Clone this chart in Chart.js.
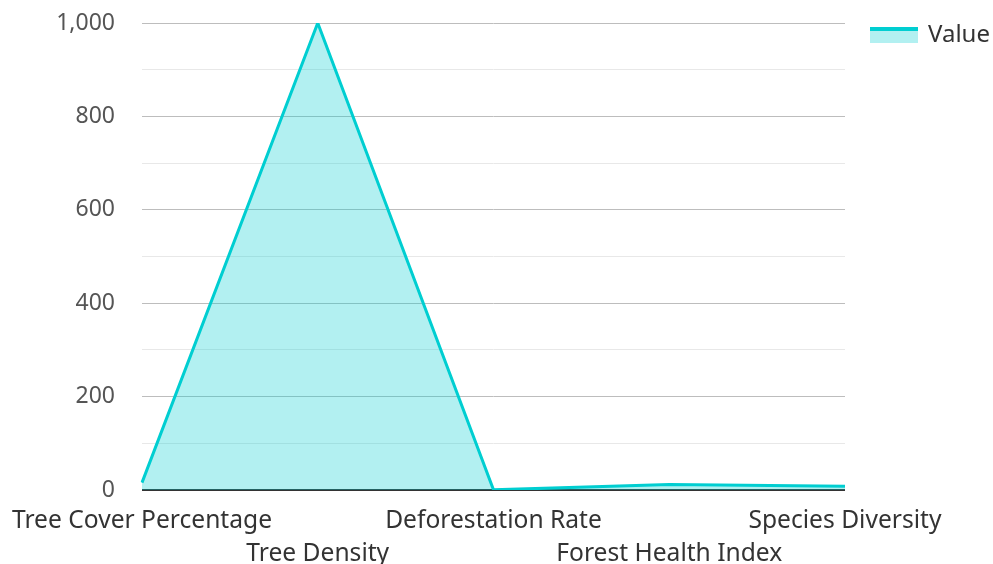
<!DOCTYPE html>
<html>
<head>
<meta charset="utf-8">
<script src="https://cdn.jsdelivr.net/npm/chart.js@4/dist/chart.umd.min.js"></script>
<style>
  html, body { margin: 0; padding: 0; background: #fff; }
  #wrap { width: 993px; height: 564px; }
</style>
</head>
<body>
<div id="wrap"><canvas id="chart" width="993" height="564"></canvas></div>
<script>
var categories = ['Tree Cover Percentage', 'Tree Density', 'Deforestation Rate', 'Forest Health Index', 'Species Diversity'];
var values = [16, 1000, 0.5, 12, 8];
var seriesName = 'Value';

var lineColor = 'rgb(0,206,209)';
var fillColor = 'rgba(0,206,209,0.3)';

// legend drawn by hand at the right: thick line on top of a filled box
var sideLegendPlugin = {
    id: 'sideLegend',
    afterDraw: function (chart) {
        var ctx = chart.ctx;
        var x = chart.chartArea.right + 25;
        var cy = 35;
        ctx.save();
        ctx.fillStyle = fillColor;
        ctx.fillRect(x, cy - 7, 48, 15);
        ctx.strokeStyle = lineColor;
        ctx.lineWidth = 4;
        ctx.beginPath();
        ctx.moveTo(x, cy - 6);
        ctx.lineTo(x + 48, cy - 6);
        ctx.stroke();
        ctx.fillStyle = '#333';
        ctx.font = '24px "Noto Sans"';
        ctx.textBaseline = 'middle';
        ctx.fillText(chart.data.datasets[0].label, x + 58, cy);
        ctx.restore();
    }
};

var ctx = document.getElementById('chart').getContext('2d');
new Chart(ctx, {
    type: 'line',
    data: {
        labels: categories,
        datasets: [{
            label: seriesName,
            data: values,
            borderColor: lineColor,
            backgroundColor: fillColor,
            borderWidth: 3,
            fill: 'origin',
            pointRadius: 0,
            tension: 0
        }]
    },
    options: {
        responsive: false,
        animation: false,
        layout: { padding: { top: 0, left: 0, right: 148, bottom: -20 } },
        plugins: {
            legend: { display: false },
            tooltip: { enabled: false }
        },
        scales: {
            x: {
                offset: false,
                grid: { display: false, drawTicks: false },
                border: { display: false },
                afterFit: function (scale) { scale.paddingLeft = 142; },
                ticks: {
                    autoSkip: false,
                    maxRotation: 0,
                    padding: 14,
                    color: '#333',
                    font: { family: 'Noto Sans', size: 24.6, lineHeight: 1.34 },
                    callback: function (v, i) {
                        var label = this.getLabelForValue(v);
                        return i % 2 ? ['', label] : label;
                    }
                }
            },
            y: {
                min: 0,
                max: 1000,
                border: { display: false },
                afterFit: function (scale) { scale.paddingTop = 23; },
                grid: {
                    drawTicks: false,
                    lineWidth: function (c) { return c.tick && c.tick.value === 0 ? 2 : 1; },
                    color: function (c) {
                        if (!c.tick) return '#e5e5e5';
                        if (c.tick.value === 0) return '#333';
                        return c.tick.value % 200 === 0 ? '#bdbdbd' : '#e8e8e8';
                    }
                },
                ticks: {
                    stepSize: 100,
                    padding: 27,
                    color: '#555',
                    font: { family: 'Noto Sans', size: 23 },
                    callback: function (v) {
                        return v % 200 === 0 ? v.toLocaleString('en-US') : '';
                    }
                }
            }
        }
    },
    plugins: [sideLegendPlugin]
});
</script>
</body>
</html>
